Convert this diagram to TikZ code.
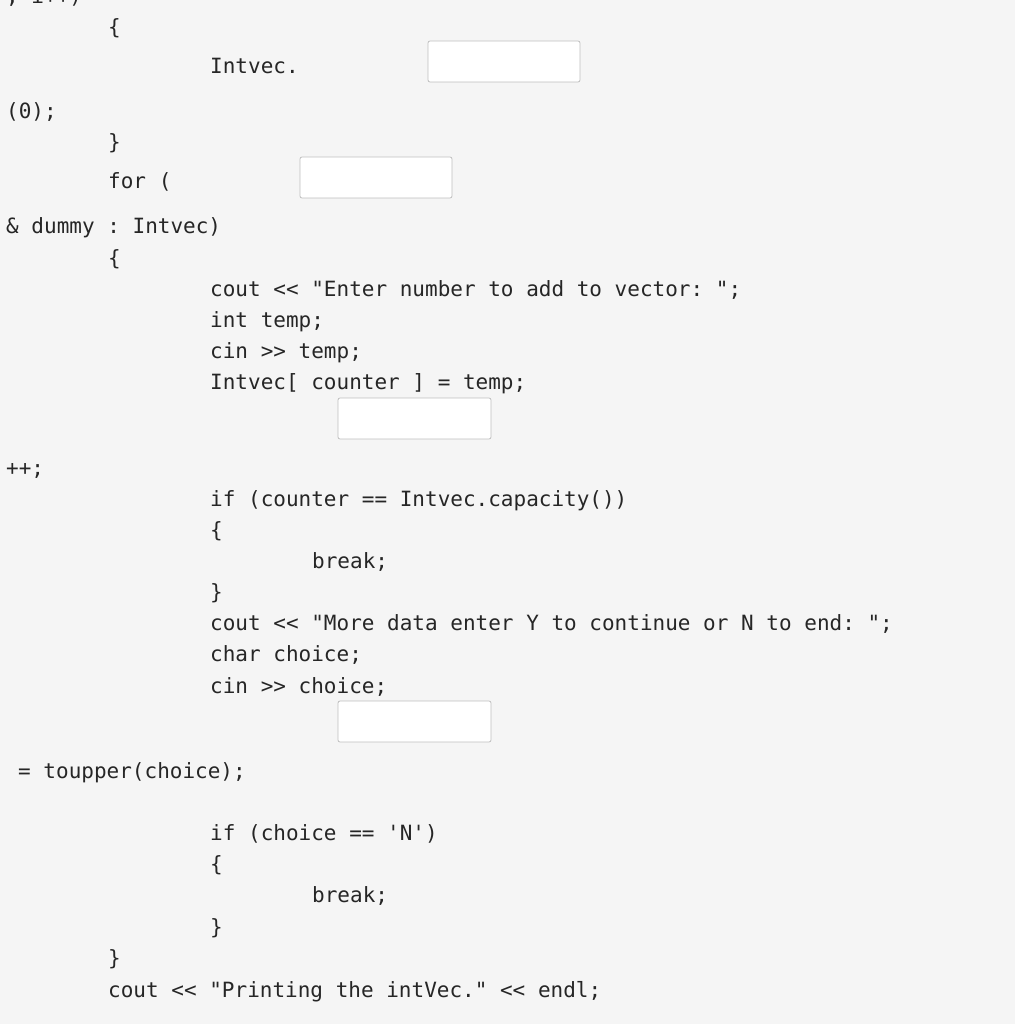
\documentclass[tikz,border=0pt]{standalone}
\usepackage{fontspec}
\setmonofont{DejaVu Sans Mono}
\begin{document}
\begin{tikzpicture}[x=1pt,y=-1pt,
  code/.style={anchor=west,inner sep=0pt,font=\ttfamily\fontsize{21}{22}\selectfont,text=black!85,text height=0.72em,text depth=0.22em,yshift=-5pt},
  blank/.style={draw=black!25,fill=white,rounded corners=2pt,line width=0.8pt}]
\clip (0,0) rectangle (1015,1024);
\fill[black!4] (0,0) rectangle (1015,1024);
\node[code] (l0) at (6,-4) {, i++)};
\node[code] (l1) at (108,27) {\{};
\node[code] (l2) at (210,66) {Intvec.};
\node[code] (l3) at (6,111) {(0);};
\node[code] (l4) at (108,142) {\}};
\node[code] (l5) at (108,181) {for (};
\node[code] (l6) at (6,226) {\& dummy : Intvec)};
\node[code] (l7) at (108,258) {\{};
\node[code] (l8) at (210,289) {cout << "Enter number to add to vector: ";};
\node[code] (l9) at (210,320) {int temp;};
\node[code] (l10) at (210,351) {cin >> temp;};
\node[code] (l11) at (210,382) {Intvec[ counter ] = temp;};
\node[code] (l12) at (6,468) {++;};
\node[code] (l13) at (210,499) {if (counter == Intvec.capacity())};
\node[code] (l14) at (210,530) {\{};
\node[code] (l15) at (312,561) {break;};
\node[code] (l16) at (210,592) {\}};
\node[code] (l17) at (210,623) {cout << "More data enter Y to continue or N to end: ";};
\node[code] (l18) at (210,654) {char choice;};
\node[code] (l19) at (210,686) {cin >> choice;};
\node[code] (l20) at (18,771) {= toupper(choice);};
\node[code] (l21) at (210,833) {if (choice == 'N')};
\node[code] (l22) at (210,864) {\{};
\node[code] (l23) at (312,895) {break;};
\node[code] (l24) at (210,927) {\}};
\node[code] (l25) at (108,958) {\}};
\node[code] (l26) at (108,990) {cout << "Printing the intVec." << endl;};
\draw[blank] (428,41) rectangle (580,82);
\draw[blank] (300,157) rectangle (452,198);
\draw[blank] (338,398) rectangle (491,439);
\draw[blank] (338,701) rectangle (491,742);
\end{tikzpicture}
\end{document}
